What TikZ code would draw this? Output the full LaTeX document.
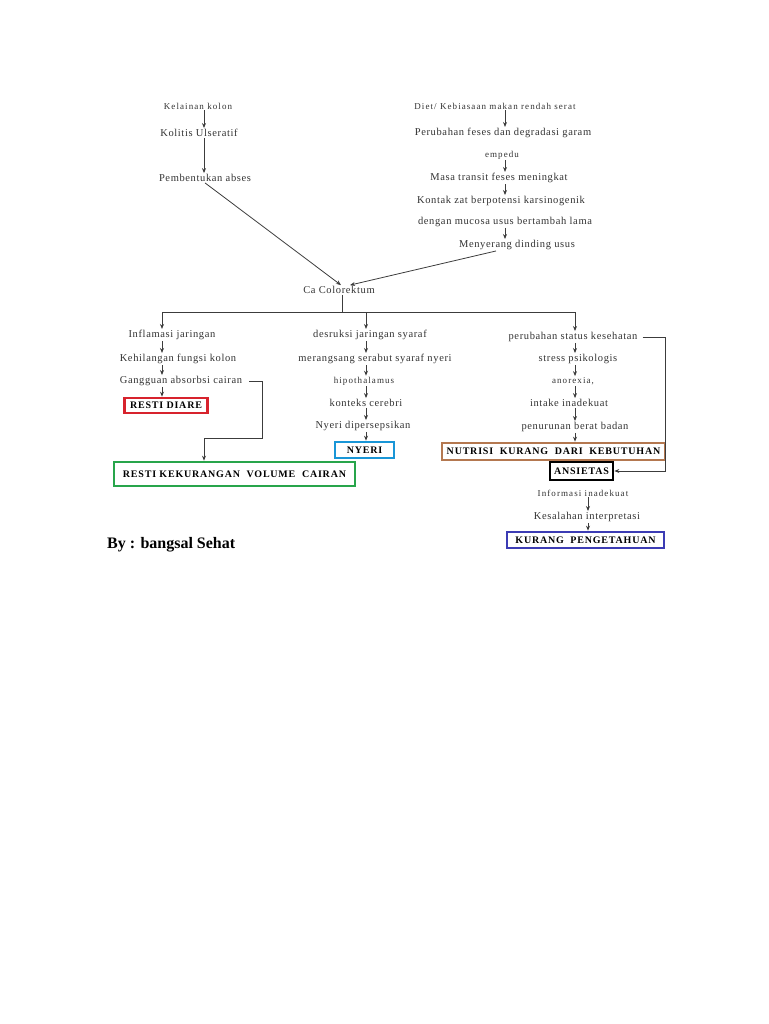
\documentclass[tikz,border=0pt]{standalone}
\usepackage{fontspec}
\setmainfont{Liberation Serif}
\usetikzlibrary{arrows.meta}
\definecolor{ln}{RGB}{60,60,60}
\definecolor{tx}{RGB}{50,50,50}
\definecolor{bred}{RGB}{215,35,45}
\definecolor{bgreen}{RGB}{40,165,75}
\definecolor{bcyan}{RGB}{25,150,215}
\definecolor{bbrown}{RGB}{180,120,80}
\definecolor{bblue}{RGB}{60,60,180}
\tikzset{
  lbl/.style={inner sep=1pt, text=tx, font=\fontsize{10.5}{12}\selectfont\addfontfeatures{LetterSpace=6}},
  slbl/.style={inner sep=1pt, text=tx, font=\fontsize{9}{10}\selectfont\addfontfeatures{LetterSpace=12}},
  box/.style={draw, line width=2.6pt, inner sep=0pt, font=\bfseries\fontsize{10}{11}\selectfont\addfontfeatures{LetterSpace=8}, text=black},
  arr/.style={draw=ln, line width=0.8pt, -{Stealth[length=5pt,width=4pt]}},
  ln/.style={draw=ln, line width=0.8pt}
}
\begin{document}
\begin{tikzpicture}[x=1pt,y=-1pt]
\useasboundingbox (0,0) rectangle (768,1024);
% left top
\node[slbl] (kel) at (198,106) {Kelainan kolon};
\node[lbl] (kol) at (199,133) {Kolitis Ulseratif};
\node[lbl] (pem) at (205,178) {Pembentukan abses};
\coordinate (cl) at (204,0);
% right top
\node[slbl] (diet) at (495,106) {Diet/ Kebiasaan makan rendah serat};
\node[lbl] (perf) at (503,133) {Perubahan feses dan degradasi garam};
\node[slbl] (emp) at (502,155) {empedu};
\node[lbl] (masa) at (499,178) {Masa transit feses meningkat};
\node[lbl] (kon) at (501,201) {Kontak zat berpotensi karsinogenik};
\node[lbl] (deng) at (505,222) {dengan mucosa usus bertambah lama};
\node[lbl] (meny) at (517,245) {Menyerang dinding usus};
\coordinate (cr) at (505,0);
% centre
\node[lbl] (ca) at (339,290) {Ca Colorektum};
\coordinate (bus) at (342,312);
\coordinate (busL) at (162,312);
\coordinate (busM) at (366,312);
\coordinate (busR) at (575,312);
% left column
\coordinate (colL) at (162,0);
\node[lbl] (inf) at (172,335) {Inflamasi jaringan};
\node[lbl] (keh) at (178,359) {Kehilangan fungsi kolon};
\node[lbl] (gan) at (181,381) {Gangguan absorbsi cairan};
\node[box, draw=bred, minimum width=83pt, minimum height=15pt] (diare) at (166,405.5) {RESTI DIARE};
\node[box, draw=bgreen, minimum width=241pt, minimum height=24pt] (rkv) at (234.5,474) {RESTI KEKURANGAN\ \ VOLUME\ \ CAIRAN};
\coordinate (g1) at (262,381);
\coordinate (g2) at (262,438);
\coordinate (g3) at (204,438);
% middle column
\coordinate (colM) at (366,0);
\node[lbl] (des) at (370,335) {desruksi jaringan syaraf};
\node[lbl] (mer) at (375,359) {merangsang serabut syaraf nyeri};
\node[slbl] (hip) at (364,381) {hipothalamus};
\node[lbl] (kor) at (366,403) {konteks cerebri};
\node[lbl] (nye) at (363,426) {Nyeri dipersepsikan};
\node[box, draw=bcyan, minimum width=59pt, minimum height=16pt] (nyeri) at (364.5,450) {NYERI};
% right column
\coordinate (colR) at (575,0);
\node[lbl] (psk) at (573,337) {perubahan status kesehatan};
\node[lbl] (str) at (578,359) {stress psikologis};
\node[slbl] (ano) at (573,381) {anorexia,};
\node[lbl] (int) at (569,403) {intake inadekuat};
\node[lbl] (pen) at (575,427) {penurunan berat badan};
\node[box, draw=bbrown, minimum width=223pt, minimum height=17pt] (nut) at (553.5,451.5) {NUTRISI\ \ KURANG\ \ DARI\ \ KEBUTUHAN};
\node[box, draw=black, minimum width=63pt, minimum height=18pt] (ans) at (581.5,471) {ANSIETAS};
\coordinate (p1) at (665,400);
\node[slbl] (infm) at (583,493) {Informasi inadekuat};
\node[lbl] (kes) at (587,517) {Kesalahan interpretasi};
\node[box, draw=bblue, minimum width=157pt, minimum height=16pt] (kp) at (585.5,540) {KURANG\ \ PENGETAHUAN};
\coordinate (cb) at (588,0);
% by
\node[anchor=west, inner sep=0pt, font=\bfseries\fontsize{16}{18}\selectfont] (by) at (107,545) {By : bangsal Sehat};
% connectors
\draw[arr] (kel.south -| cl) -- (kol.north -| cl);
\draw[arr] (kol.south -| cl) -- (pem.north -| cl);
\draw[arr] (diet.south -| cr) -- (perf.north -| cr);
\draw[arr] (emp.south -| cr) -- (masa.north -| cr);
\draw[arr] (masa.south -| cr) -- (kon.north -| cr);
\draw[arr] (deng.south -| cr) -- (meny.north -| cr);
\draw[arr] (pem.south) -- ([xshift=2pt]ca.north);
\draw[arr] ([xshift=-21pt]meny.south) -- ([xshift=11pt]ca.north);
\draw[ln] (ca.south -| bus) -- (bus);
\draw[ln] (busL) -- (busR);
\draw[arr] (busL) -- (inf.north -| colL);
\draw[arr] (busM) -- (des.north -| colM);
\draw[arr] (busR) -- (psk.north -| colR);
\draw[arr] (inf.south -| colL) -- (keh.north -| colL);
\draw[arr] (keh.south -| colL) -- (gan.north -| colL);
\draw[arr] (gan.south -| colL) -- (diare.north -| colL);
\draw[arr] ([xshift=6pt]gan.east) -- (g1) -- (g2) -- (g3) -- (rkv.north -| g3);
\draw[arr] (des.south -| colM) -- (mer.north -| colM);
\draw[arr] (mer.south -| colM) -- (hip.north -| colM);
\draw[arr] (hip.south -| colM) -- (kor.north -| colM);
\draw[arr] (kor.south -| colM) -- (nye.north -| colM);
\draw[arr] (nye.south -| colM) -- (nyeri.north -| colM);
\draw[arr] (psk.south -| colR) -- (str.north -| colR);
\draw[arr] (str.south -| colR) -- (ano.north -| colR);
\draw[arr] (ano.south -| colR) -- (int.north -| colR);
\draw[arr] (int.south -| colR) -- (pen.north -| colR);
\draw[arr] (pen.south -| colR) -- (nut.north -| colR);
\draw[arr] ([xshift=4pt]psk.east) -| (p1) |- (ans.east);
\draw[arr] (infm.south -| cb) -- (kes.north -| cb);
\draw[arr] (kes.south -| cb) -- (kp.north -| cb);
\end{tikzpicture}
\end{document}
